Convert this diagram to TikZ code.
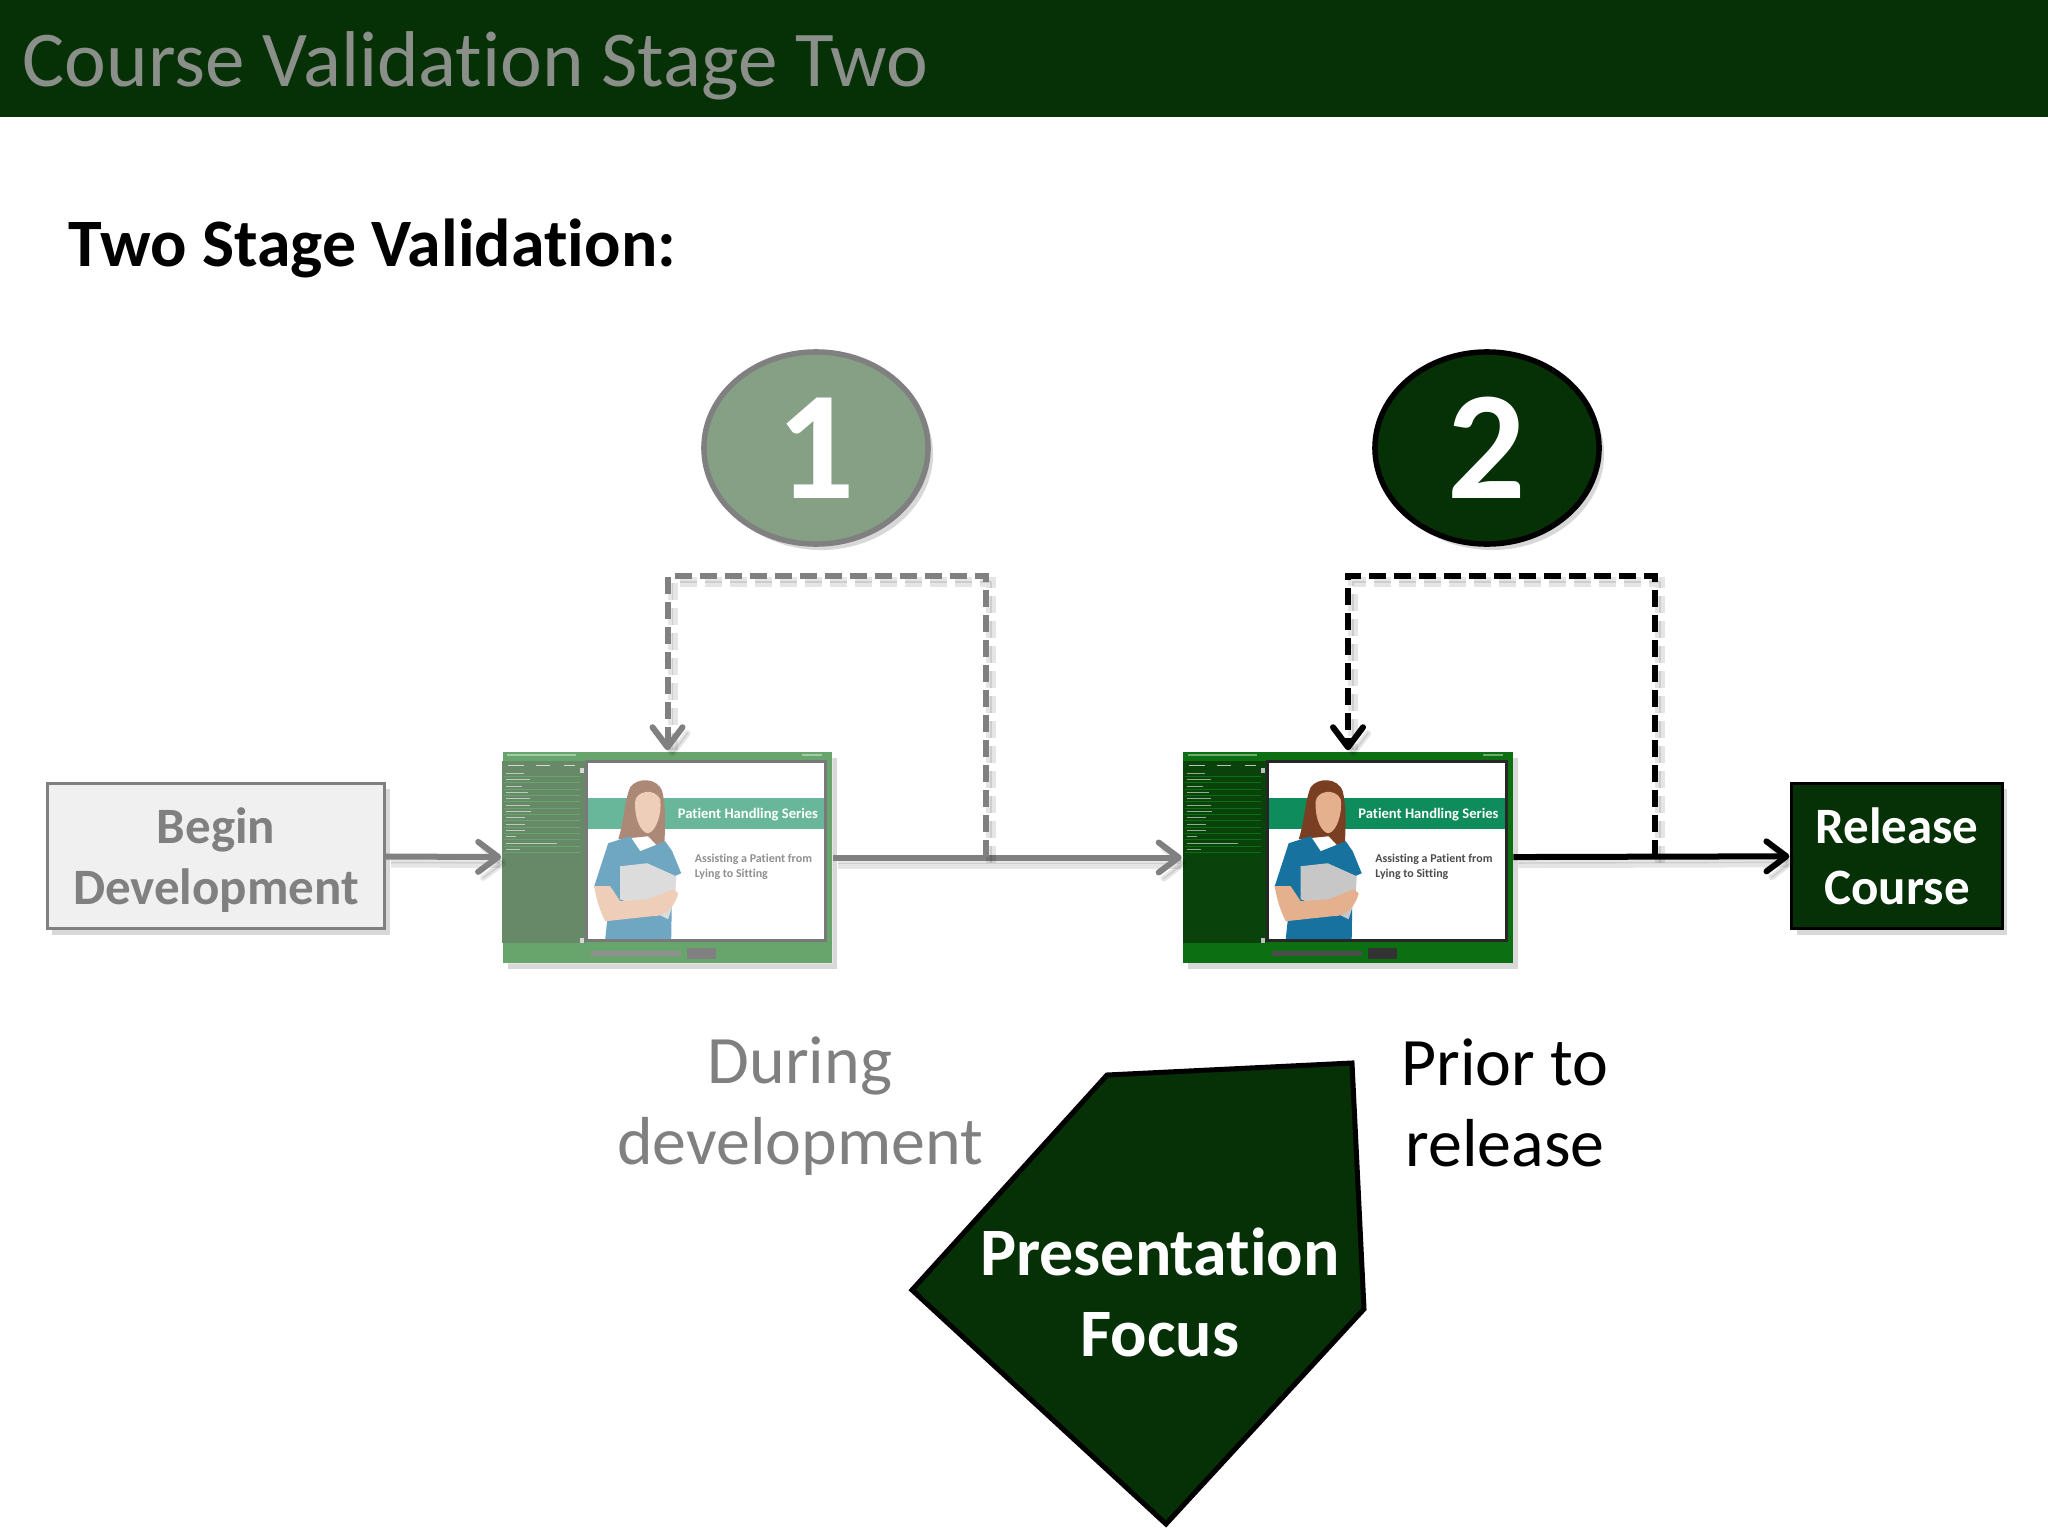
\documentclass[tikz,border=0pt]{standalone}
\usepackage{fontspec}
\setmainfont[Ligatures=NoCommon]{Carlito}
\usepackage{tikz}
\usetikzlibrary{shapes,arrows.meta,positioning,shadows}

\definecolor{darkgreen}{HTML}{063006}
\definecolor{paleboard}{HTML}{86A085}
\definecolor{fadegray}{HTML}{808080}
\definecolor{titlegray}{HTML}{8A8F8A}
\definecolor{barGreen}{HTML}{0C6F12}
\definecolor{panelGreen}{HTML}{0A420C}
\definecolor{bandGreen}{HTML}{0E8C5C}
\definecolor{shirtBlue}{HTML}{17729F}
\definecolor{hairBrown}{HTML}{7A3F22}
\definecolor{skinTone}{HTML}{E5B08E}

\tikzset{
  softshadow/.style={drop shadow={opacity=.3,shadow xshift=.05cm,shadow yshift=-.06cm}},
  stepbox/.style={rectangle,minimum width=3.37cm,minimum height=1.45cm,align=center,softshadow,text depth=0pt,
    font=\fontsize{14.5}{17.4}\selectfont\bfseries},
  releasebox/.style={stepbox,minimum width=2.1cm,draw=black,line width=.03cm,fill=darkgreen,text=white},
  stagemark/.style={ellipse,minimum width=2.24cm,minimum height=1.92cm,line width=.055cm,text=white,
    inner sep=0pt,softshadow,font=\fontsize{44}{44}\selectfont\bfseries},
  screenbox/.style={rectangle,minimum width=3.29cm,minimum height=2.11cm,fill=barGreen,softshadow},
  bigtext/.style={align=center,font=\fontsize{19.3}{23}\selectfont},
  arrowline/.style={line width=.06cm,shorten >=.01cm,-{Straight Barb[length=.2cm,width=.3cm,line width=.06cm,round]}},
  flow/.style={arrowline,
    preaction={draw=black,opacity=.1,line width=.1cm,transform canvas={xshift=.05cm,yshift=-.06cm}},
    preaction={draw=black,opacity=.1,transform canvas={xshift=.05cm,yshift=-.06cm}}},
  feedback/.style={arrowline,dash pattern=on .17cm off .08cm,
    preaction={draw=black,opacity=.1,dash pattern=on .17cm off .08cm,line width=.1cm,transform canvas={xshift=.05cm,yshift=-.06cm}},
    preaction={draw=black,opacity=.1,dash pattern=on .17cm off .08cm,transform canvas={xshift=.05cm,yshift=-.06cm}}},
  courseshot/.pic={
    \fill[panelGreen] (0,10) rectangle (83,192);
    \fill[black!85] (83,9) rectangle (325,191);
    \fill[white] (86,12) rectangle (322,188);
    \fill[bandGreen] (86,47) rectangle (322,78);
    % lista do menu
    \foreach \row/\len in {22/18,28/24,35/16,41/22,47/24,54/24,60/25,66/19,73/19,79/19,85/10,92/51,98/14}{
      \draw[white!55!panelGreen,line width=.012cm] (4,\row) -- (4+\len,\row);
      \draw[barGreen,line width=.006cm] (2,\row+3) -- (78,\row+3);
    }
    \foreach \tabx/\len in {6/16,34/14,62/11}
      \draw[white!70!panelGreen,line width=.012cm] (\tabx,14) -- (\tabx+\len,14);
    \fill[white!75!black] (78,17) rectangle (82,22);
    \fill[white!75!black] (78,187) rectangle (82,192);
    % mulher
    \fill[hairBrown] (128,36) .. controls (135,26) and (155,26) .. (160,40)
      .. controls (165,60) and (162,85) .. (162,102) -- (146,85) -- (116,88)
      .. controls (122,70) and (122,50) .. (128,36) -- cycle;
    \fill[skinTone] (133,50) .. controls (134,40) and (152,36) .. (158,48)
      .. controls (160,62) and (154,80) .. (146,82) .. controls (140,82) and (132,70) .. (133,50) -- cycle;
    \fill[shirtBlue] (106,92) -- (128,85) -- (138,100) -- (163,90) -- (170,100) -- (179,122)
      -- (170,126) -- (169,188) -- (103,188) -- (106,160) -- (92,135) -- cycle;
    \fill[black!22] (118,115) -- (145,112) -- (174,125) -- (173,145) -- (166,168) -- (150,160) -- (118,148) -- cycle;
    \fill[skinTone] (92,135) -- (108,135) -- (118,150) -- (146,148) -- (171,138) -- (176,142)
      .. controls (172,158) and (160,166) .. (149,165) -- (103,170) .. controls (98,160) and (94,148) .. (92,135) -- cycle;
    % textos do slide
    \node[text=white,anchor=west,inner sep=0pt,font=\fontsize{4.15}{4.5}\selectfont\bfseries] (band) at (175,63) {Patient Handling Series};
    \node[text=black!70,anchor=north west,inner sep=0pt,align=left,
      font=\fontsize{3.4}{4.2}\selectfont\bfseries] (note) at (192,102) {Assisting a Patient from\\Lying to Sitting};
    % barra de controle
    \fill[black!70] (89,200) rectangle (179,205);
    \fill[black!80] (185,197) rectangle (214,208);
    \fill[white!40!barGreen] (5,3) rectangle (74,4.5);
    \fill[white!40!barGreen] (300,3) rectangle (320,4.5);
  }
}

\begin{document}
\begin{tikzpicture}[x=.01cm,y=-.01cm]
\useasboundingbox (0,0) rectangle (2048,1536);
\fill[white] (0,0) rectangle (2048,1536);
\fill[darkgreen] (0,0) rectangle (2048,117);
\node[anchor=west,inner sep=0pt,text=titlegray,font=\fontsize{22.5}{24}\selectfont] (title) at (22,66) {Course Validation Stage Two};
\node[anchor=west,inner sep=0pt,font=\fontsize{19.3}{23}\selectfont\bfseries] (heading) at (68,248) {Two Stage Validation:};

\node[stagemark,draw=fadegray,fill=paleboard] (markA) at (816,448) {1};
\node[stagemark,draw=black,fill=darkgreen] (markB) at (1487,448) {2};

\node[stepbox,draw=fadegray,fill=gray!12,text=fadegray,line width=.03cm] (begin) at (216,856) {Begin\\Development};
\node[screenbox] (screenA) at (667.5,857.5) {};
\node[screenbox] (screenB) at (1348,857.5) {};
\node[releasebox] (release) at (1897,856) {Release\\Course};
\pic (shotA) at (screenA.north west) {courseshot};
\pic (shotB) at (screenB.north west) {courseshot};
\fill[white,opacity=.38] (screenA.north west) rectangle (screenA.south east);

\coordinate (tapA) at (986,857);
\coordinate (tapB) at (1655,857);
\coordinate (cornerA) at (986,576);
\coordinate (cornerB) at (1655,576);

\draw[flow,draw=fadegray] (begin) -- (screenA);
\draw[flow,draw=fadegray] (screenA) -- (screenB);
\draw[flow,draw=black] (screenB) -- (release);
\draw[feedback,draw=fadegray] (tapA) -- (cornerA) -| (screenA.north);
\draw[feedback,draw=black] (tapB) -- (cornerB) -| (screenB.north);

\node[bigtext,text=fadegray] (during) at (800,1106) {During\\development};
\node[bigtext] (prior) at (1505,1103) {Prior to\\release};

\draw[draw=black,line width=.05cm,fill=darkgreen] (1107,1075) -- (1352,1063) -- (1364,1309) -- (1166,1524) -- (912,1290) -- cycle;
\node[bigtext,text=white,font=\fontsize{19.3}{23}\selectfont\bfseries] (focus) at (1160,1292) {Presentation\\Focus};
\end{tikzpicture}
\end{document}
